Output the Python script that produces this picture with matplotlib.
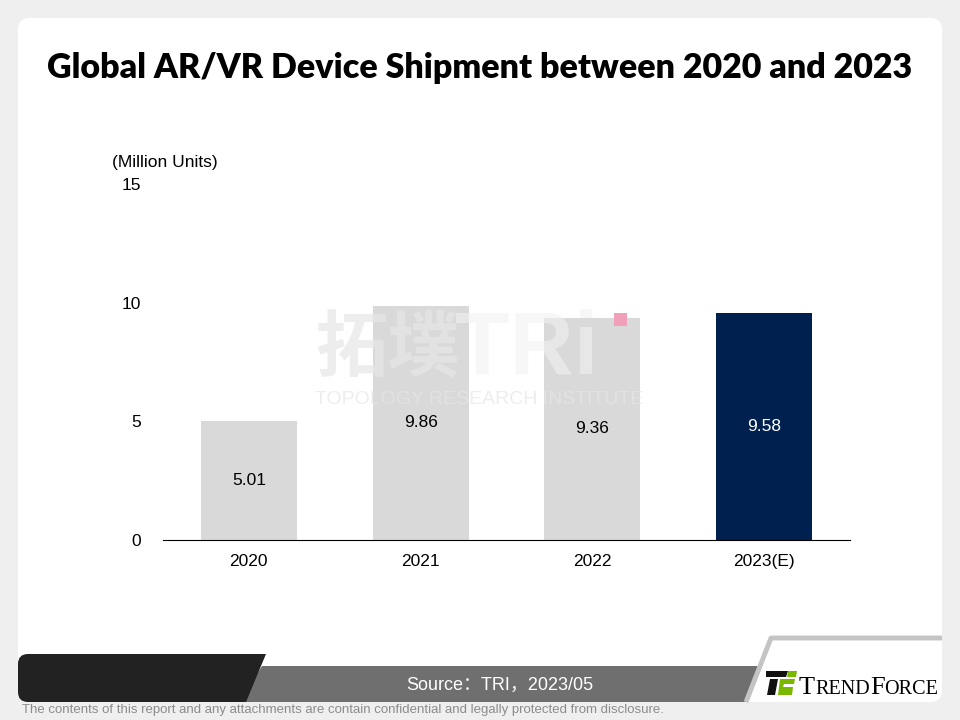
import matplotlib
matplotlib.use('Agg')
import matplotlib.pyplot as plt
from matplotlib.patches import FancyBboxPatch, Polygon, Rectangle

years = ['2020', '2021', '2022', '2023(E)']
values = [5.01, 9.86, 9.36, 9.58]
bar_colors = ['#d9d9d9', '#d9d9d9', '#d9d9d9', '#002050']
label_colors = ['#000000', '#000000', '#000000', '#ffffff']
yticks = [0, 5, 10, 15]

title = 'Global AR/VR Device Shipment between 2020 and 2023'
unit = '(Million Units)'
source = 'Source\uff1aTRI\uff0c2023/05'
disclaimer = 'The contents of this report and any attachments are contain confidential and legally protected from disclosure.'

fig = plt.figure(figsize=(9.6, 7.2), dpi=100)
fig.patch.set_facecolor('#efefef')

# background layer in pixel coords
bg = fig.add_axes([0, 0, 1, 1], zorder=0)
bg.set_xlim(0, 960)
bg.set_ylim(720, 0)
bg.axis('off')
bg.add_patch(FancyBboxPatch((18, 18), 924, 684, boxstyle='round,pad=0,rounding_size=12',
                            fc='white', ec='none'))
# footer bands
bg.add_patch(Polygon([(262, 666), (762, 666), (748, 702), (240, 702)], closed=True,
                     fc='#6f6f6f', ec='none'))
bg.add_patch(FancyBboxPatch((18, 654), 60, 48, boxstyle='round,pad=0,rounding_size=10',
                            fc='#222222', ec='none'))
bg.add_patch(Polygon([(40, 654), (266, 654), (246, 702), (40, 702)], closed=True,
                     fc='#222222', ec='none'))
bg.plot([746, 771, 942], [702, 638, 638], color='#c4c4c4', lw=3.5, solid_capstyle='butt')
bg.text(500, 685, source, color='white', fontsize=13, ha='center', va='center',
        family=['Liberation Sans', 'Noto Sans CJK SC'])

# logo
bg.add_patch(Polygon([(766, 671), (788, 671), (786, 677), (766, 677)], fc='#111111', ec='none'))
bg.add_patch(Polygon([(770, 679), (778, 679), (775, 695), (767, 695)], fc='#111111', ec='none'))
bg.add_patch(Polygon([(780, 679), (795, 679), (794, 684), (784, 684), (783, 687), (793, 687),
                      (792, 695), (778, 695)], fc='#7ab800', ec='none'))
bg.add_patch(Polygon([(788, 671), (797, 671), (796, 677), (787, 677)], fc='#7ab800', ec='none'))
tf_font = 'Liberation Serif'
x0 = 799
for part, size in [('T', 19), ('REND', 14.5), ('F', 19), ('ORCE', 14.5)]:
    t = bg.text(x0, 694, part, fontsize=size, family=tf_font, ha='left', va='baseline', color='black')
    fig.canvas.draw()
    bb = t.get_window_extent()
    x0 += bb.width

fig.text(22 / 960, 1 - 710 / 720, disclaimer, fontsize=9.5, color='#8c8c8c', ha='left', va='center',
         family=['Liberation Sans Narrow', 'Liberation Sans'])

fig.text(0.5, 1 - 68 / 720, title, fontsize=24.5, fontweight='heavy', ha='center', va='center',
         family=['Lato', 'DejaVu Sans'])

# chart
ax = fig.add_axes([163 / 960, 0.25, 687 / 960, 356 / 720], zorder=1)
ax.patch.set_alpha(0)
x = range(len(years))
bars = ax.bar(x, values, width=0.56, color=bar_colors)
for i, v in enumerate(values):
    ax.text(i, v / 2, f'{v:.2f}', ha='center', va='center', fontsize=12.5,
            color=label_colors[i], family='Liberation Sans')
ax.set_xlim(-0.5, 3.5)
ax.set_ylim(0, 15)
ax.set_yticks(yticks)
ax.set_xticks(list(x))
ax.set_xticklabels(years)
for s in ['top', 'right', 'left']:
    ax.spines[s].set_visible(False)
ax.spines['bottom'].set_color('#000000')
ax.spines['bottom'].set_linewidth(0.8)
ax.tick_params(axis='both', length=0, labelsize=12.5, pad=10)
ax.tick_params(axis='y', pad=16)
for lab in ax.get_xticklabels() + ax.get_yticklabels():
    lab.set_family('Liberation Sans')
fig.text(112 / 960, 1 - 162 / 720, unit, fontsize=12.5, ha='left', va='center',
         family='Liberation Sans')

# watermark on top
fig.text(315 / 960, 1 - 350 / 720, '拓墣', fontsize=52, fontweight='bold', color='#e6e6e6', alpha=0.7,
         ha='left', va='center', family=['Noto Sans CJK TC', 'Noto Sans CJK SC'], zorder=5)
fig.text(455 / 960, 1 - 350 / 720, 'TRi', fontsize=64, fontweight='bold', color='#f2f2f2', alpha=0.6,
         ha='left', va='center', family='Liberation Sans', zorder=5)
fig.text(315 / 960, 1 - 400 / 720, 'TOPOLOGY RESEARCH INSTITUTE', fontsize=14, color='#e6e6e6',
         alpha=0.7, ha='left', va='center', family='Liberation Sans', zorder=5)
fig.patches.append(Rectangle((614 / 960, 1 - 326 / 720), 13 / 960, 13 / 720,
                             transform=fig.transFigure, fc='#f0a0b8', ec='none', zorder=6))

fig.savefig('out.png', dpi=100, facecolor=fig.get_facecolor())
